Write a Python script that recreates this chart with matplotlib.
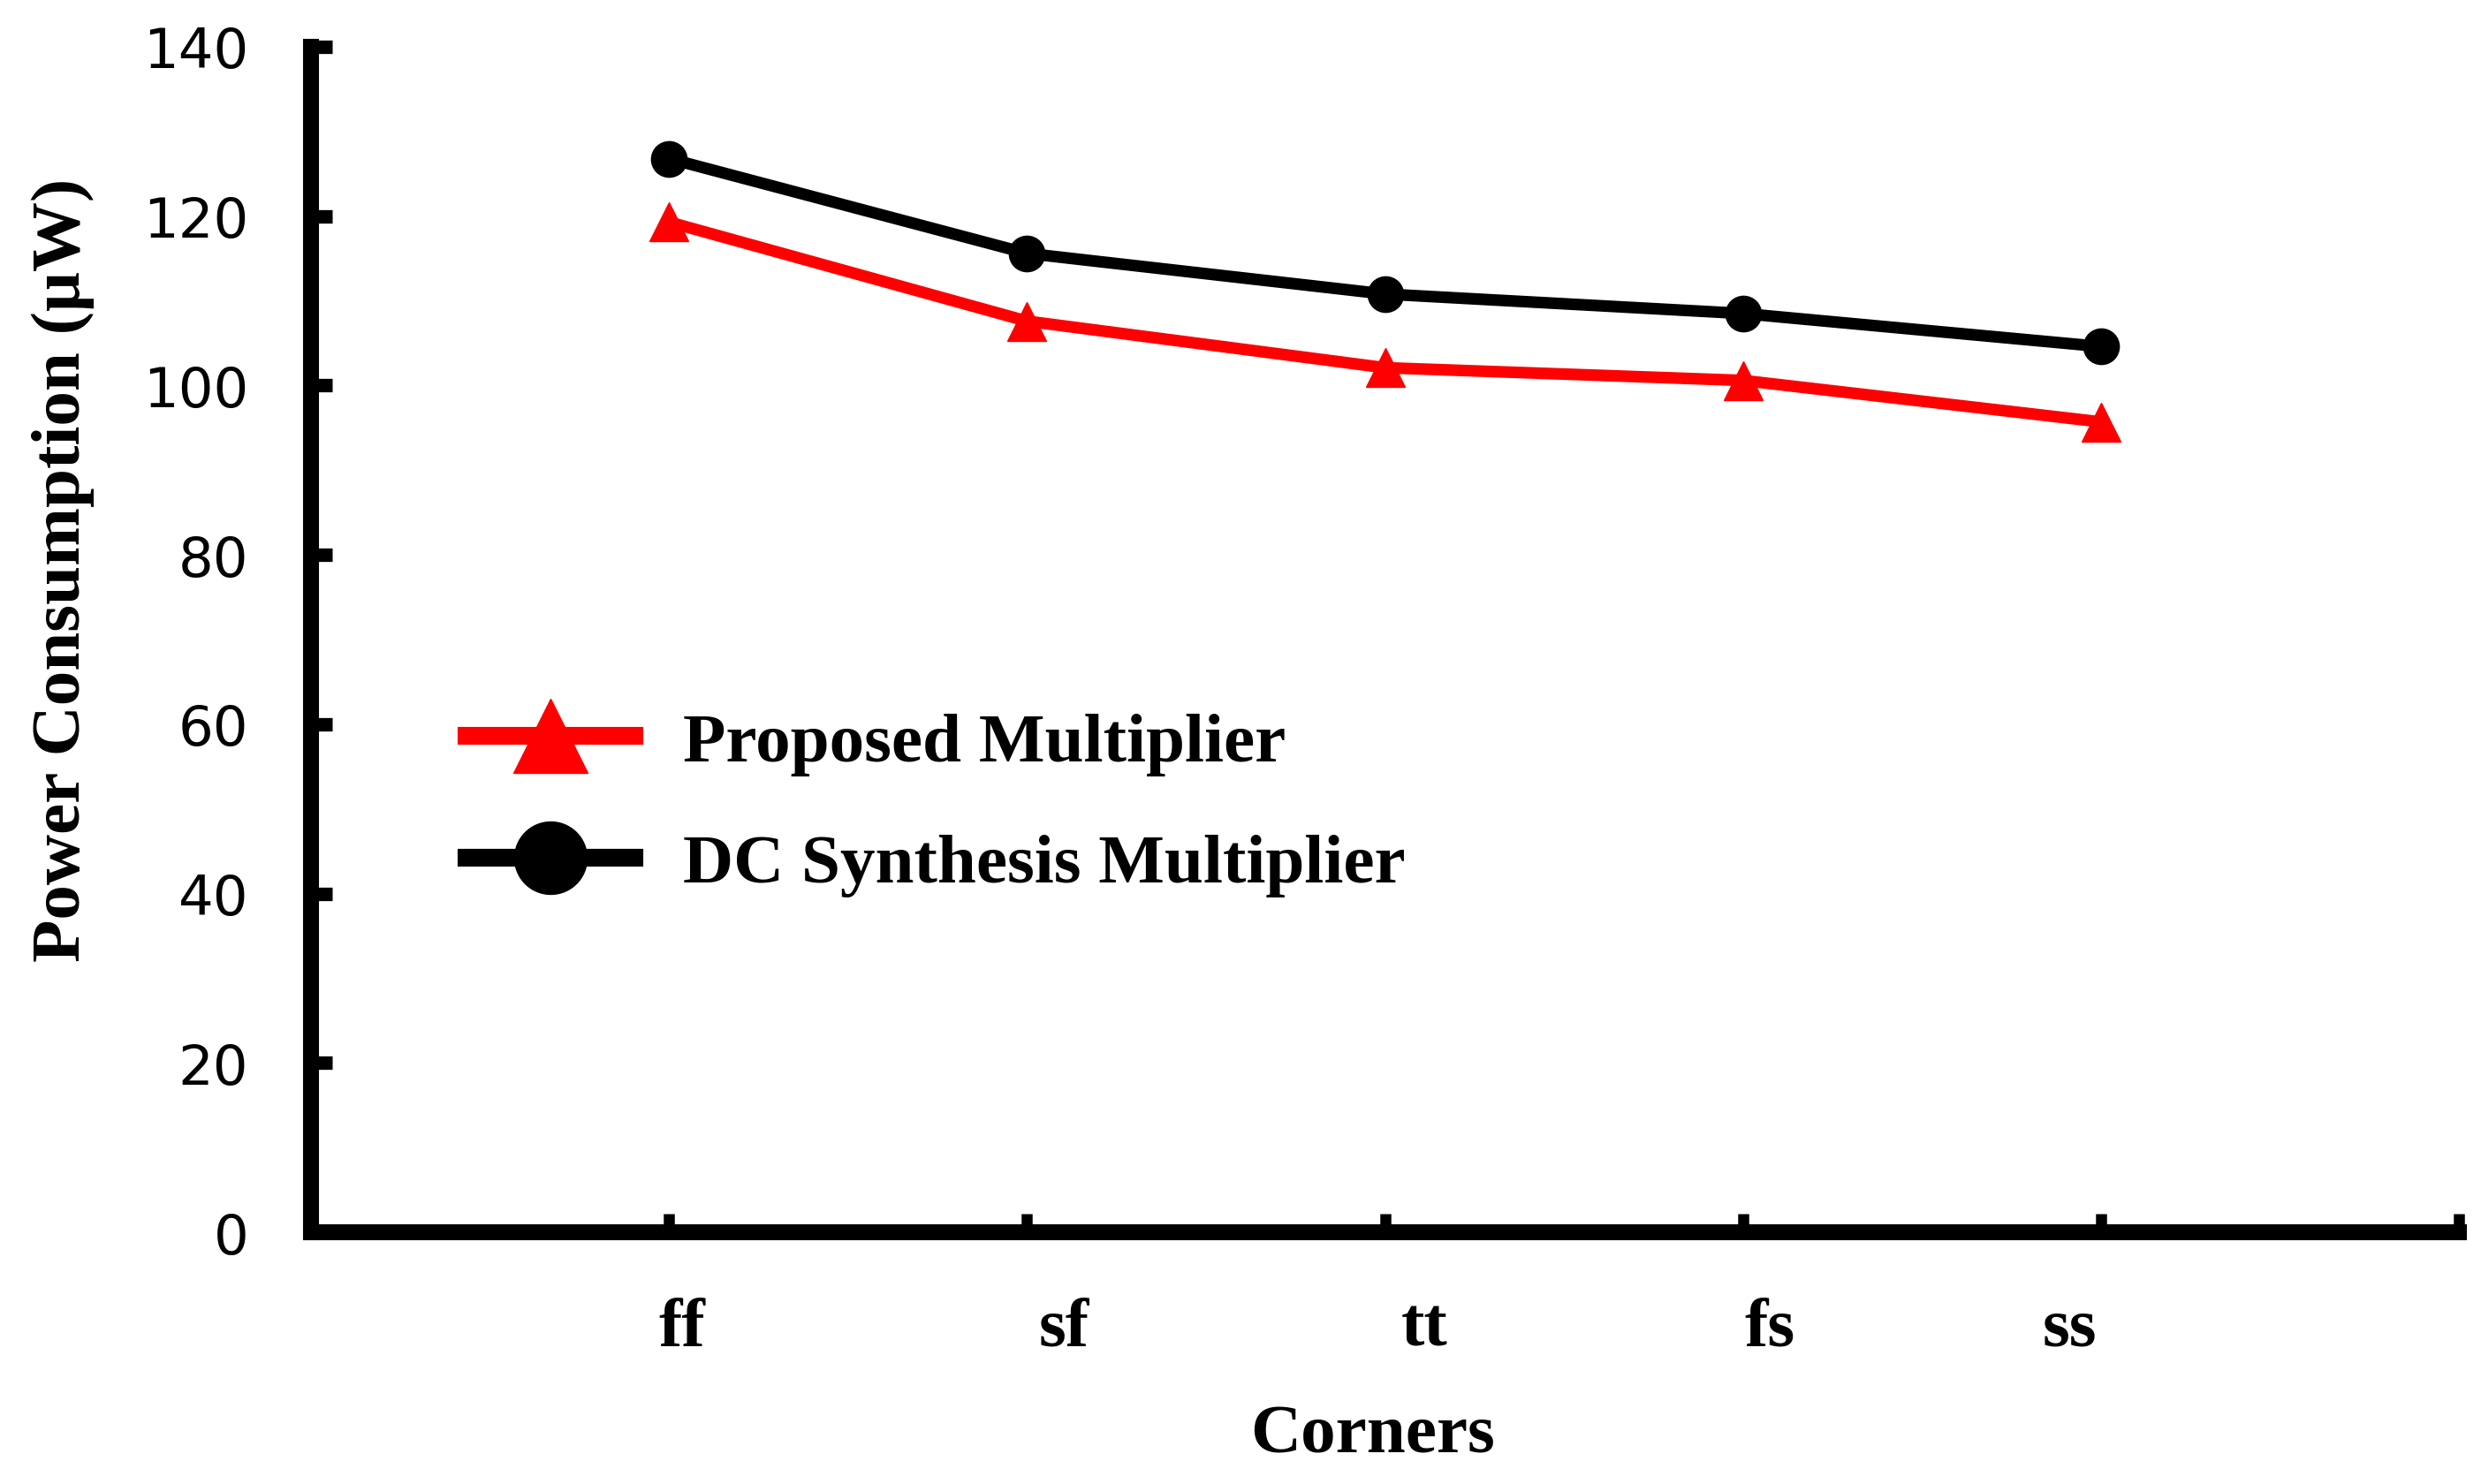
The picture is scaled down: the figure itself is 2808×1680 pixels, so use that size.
import matplotlib
matplotlib.use("Agg")
import matplotlib.pyplot as plt
from matplotlib.lines import Line2D

# ---- data ----
corners = ["ff", "sf", "tt", "fs", "ss"]
proposed = [119.3, 107.6, 102.1, 100.6, 95.7]
dc_synthesis = [126.8, 115.6, 110.8, 108.5, 104.6]
y_ticks = [0, 20, 40, 60, 80, 100, 120, 140]
series_names = ["Proposed Multiplier", "DC Synthesis Multiplier"]

# style: horizontal nudges of the category labels (in category units)
label_nudge = [0.035, 0.104, 0.11, 0.074, -0.087]

serif = ["Liberation Serif", "DejaVu Serif"]

fig = plt.figure(figsize=(28.08, 16.81), dpi=100)
ax = fig.add_axes([0.1254, 0.1695, 0.9911 - 0.1254, 0.9679 - 0.1695])

x = list(range(1, len(corners) + 1))
ax.plot(x, dc_synthesis, color="black", lw=9.5, marker="o", markersize=29,
        solid_capstyle="round", zorder=3)
ax.plot(x, proposed, color="red", lw=9.5, marker="^", markersize=31,
        solid_capstyle="round", zorder=3)

ax.set_xlim(0, len(corners) + 1)
ax.set_ylim(0, 140)
ax.set_yticks(y_ticks)
ax.set_yticklabels([str(v) for v in y_ticks], fontfamily="DejaVu Sans", fontsize=45)

# tick marks at the categories (plus the end of the axis)
ax.set_xticks(list(range(1, len(corners) + 2)))
ax.set_xticklabels([""] * (len(corners) + 1))
# category labels on minor ticks, slightly nudged like the original
ax.set_xticks([xi + d for xi, d in zip(x, label_nudge)], minor=True)
ax.set_xticklabels(corners, minor=True, fontfamily=serif, fontweight="bold", fontsize=57)

for s in ["top", "right"]:
    ax.spines[s].set_visible(False)
for s in ["left", "bottom"]:
    ax.spines[s].set_linewidth(13)
    ax.spines[s].set_capstyle("projecting")

ax.tick_params(axis="y", direction="in", length=17, width=11, pad=51)
ax.tick_params(axis="x", which="major", direction="in", length=15, width=9, pad=52)
ax.tick_params(axis="x", which="minor", direction="in", length=0, width=0, pad=53)

ax.set_xlabel("Corners", fontfamily=serif, fontweight="bold", fontsize=57)
ax.xaxis.set_label_coords(0.4944, -0.145)
ax.set_ylabel("Power Consumption (\u03bcW)", fontfamily=serif, fontweight="bold", fontsize=57)
ax.yaxis.set_label_coords(-0.101, 0.559)

handles = [
    Line2D([], [], color="red", lw=14.5, marker="^", markersize=60),
    Line2D([], [], color="black", lw=14.5, marker="o", markersize=59),
]
leg = ax.legend(handles, series_names, loc="center left",
                bbox_to_anchor=(0.188, 0.4578), bbox_transform=fig.transFigure,
                frameon=False, borderpad=0, borderaxespad=0,
                handlelength=2.4, handletextpad=0.69, labelspacing=0.82,
                prop={"family": serif, "weight": "bold", "size": 57})

fig.savefig("out.png", dpi=100)
